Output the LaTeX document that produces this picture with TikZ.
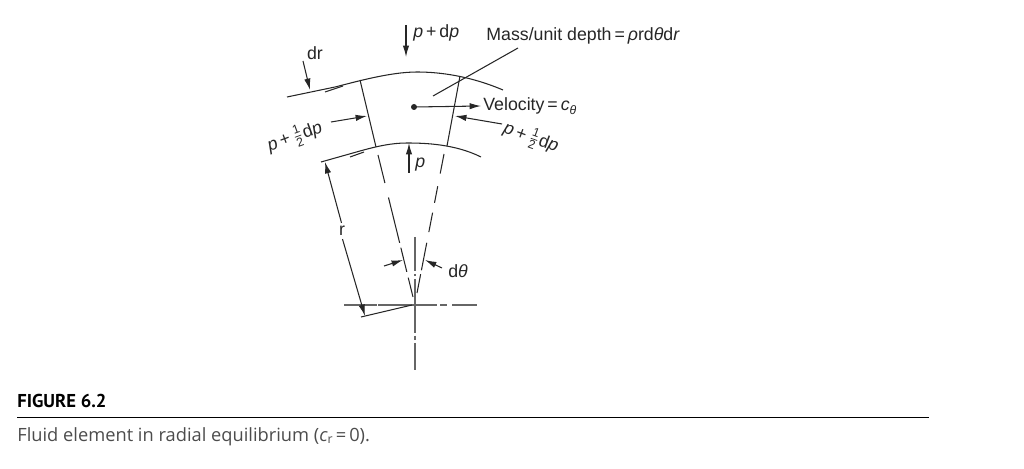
\documentclass[tikz,border=0pt]{standalone}
\usepackage{amsmath}
\usepackage{fontspec}
\setmainfont{Liberation Sans}
\newfontfamily\capfont{Open Sans}
\newfontfamily\headfont{PT Sans}
\usetikzlibrary{arrows.meta}
\newcommand{\halffrac}{$\frac{\text{\fontsize{7}{7}\selectfont 1}}{\text{\fontsize{7}{7}\selectfont 2}}$}
\tikzset{
    ink/.style={draw=black!85, line width=0.6pt},
    force/.style={ink, -{Latex[length=6.5pt,width=3.6pt]}},
    centreline/.style={draw=black!60, line width=0.6pt},
    label/.style={text=black!85, font=\fontsize{10.1}{12}\selectfont, inner sep=0pt},
}
\begin{document}
\begin{tikzpicture}[x=0.02cm, y=-0.02cm]
            \useasboundingbox (0,0) rectangle (1024,469);

            \coordinate (outerstart) at (287,97);
            \coordinate (outerleft)  at (360,80);
            \coordinate (outerright) at (460,76);
            \coordinate (outerend)   at (503,90);
            \coordinate (innerstart) at (321,162);
            \coordinate (innerleft)  at (376,147);
            \coordinate (innerright) at (447,146);
            \coordinate (innerend)   at (481,157);
            \coordinate (footleft)   at (361,317);

            % element
            \draw[ink] (outerstart) -- (335,87) .. controls (355,82) and (390,72) .. (417,72)
                .. controls (440,72) and (470,76) .. (outerend);
            \draw[ink] (innerstart) -- (360,151) .. controls (378,146) and (392,143) .. (407,143)
                .. controls (425,143) and (455,144) .. (innerend);
            \draw[ink] (outerleft) -- (innerleft);
            \draw[ink] (outerright) -- (innerright);

            % stubs along the arcs
            \coordinate (stubouterA) at (325,92);
            \coordinate (stubouterB) at (343,86);
            \coordinate (stubinnerA) at (350,157);
            \coordinate (stubinnerB) at (364,152);
            \draw[ink] (stubouterA) -- (stubouterB);
            \draw[ink] (stubinnerA) -- (stubinnerB);

            % radial dashes
            \coordinate (dashleftA)  at (378,155);
            \coordinate (dashleftB)  at (413,297);
            \coordinate (dashrightA) at (444,154);
            \coordinate (dashrightB) at (417,293);
            \draw[ink, dash pattern=on 16.4pt off 8.5pt on 26.6pt off 2.8pt on 14.2pt off 3.4pt on 11.3pt]
                (dashleftA) -- (dashleftB);
            \draw[ink, dash pattern=on 11.3pt off 7.4pt on 9.6pt off 5.7pt on 11.3pt off 6.2pt on 15.9pt off 2.3pt on 13.6pt]
                (dashrightA) -- (dashrightB);

            % centre lines
            \coordinate (horizA) at (344,305);
            \coordinate (horizB) at (477,305);
            \coordinate (vertA)  at (415,237);
            \coordinate (vertB)  at (415,370);
            \draw[centreline, dash pattern=on 18.7pt off 0.9pt on 33.5pt off 1.7pt on 4pt off 2.8pt on 14pt]
                (horizA) -- (horizB);
            \draw[centreline, dash pattern=on 19.3pt off 1.7pt on 1.2pt off 1.7pt on 30.6pt off 1.7pt on 2.3pt off 1.7pt on 15.3pt]
                (vertA) -- (vertB);

            % radius
            \coordinate (rtop) at (325,162);
            \coordinate (rend) at (365,316);
            \draw[ink] (footleft) -- (412,305);
            \node[label] (rlabel) at (342,231) {r};
            \draw[force] (rlabel.north) ++(-0.5,-3) -- (rtop);
            \draw[force] (rlabel.south) ++(0.5,3) -- (rend);

            % dr and pressures
            \coordinate (drA) at (303,61);
            \coordinate (drB) at (310,90);
            \draw[force] (drA) -- (drB);
            \node[label] (drlabel) at (315,53) {dr};

            \coordinate (ptopA) at (406,25);
            \coordinate (ptopB) at (406,57);
            \draw[force] (ptopA) -- (ptopB);
            \node[label, anchor=west] (ptoplabel) at (413,33) {\textit{p}\,+\,d\textit{p}};

            \coordinate (pleftA) at (331,122);
            \coordinate (pleftB) at (367,116);
            \draw[force] (pleftA) -- (pleftB);
            \node[label, rotate=20] (pleftlabel) at (295,137) {\textit{p}\,+\,\halffrac{}d\textit{p}};

            \coordinate (prightA) at (502,124);
            \coordinate (prightB) at (455,116);
            \draw[force] (prightA) -- (prightB);
            \node[label, rotate=-20] (prightlabel) at (531,138) {\textit{p}\,+\,\halffrac{}d\textit{p}};

            \coordinate (pbotA) at (409,173);
            \coordinate (pbotB) at (409,143);
            \draw[force] (pbotA) -- (pbotB);
            \node[label, anchor=west] (pbotlabel) at (415,165) {\textit{p}};

            % velocity
            \coordinate (dot) at (414,107);
            \coordinate (velB) at (481,106);
            \fill[black!85] (dot) circle (3);
            \draw[force] (dot) -- (velB);
            \node[label, anchor=west] (vellabel) at (483,106) {Velocity\,=\,\textit{c}\raisebox{-0.4ex}{\fontsize{7}{8}\selectfont\textit{θ}}};

            % mass
            \coordinate (massA) at (518,48);
            \coordinate (massB) at (433,96);
            \draw[ink] (massA) -- (massB);
            \node[label, anchor=west] (masslabel) at (486,36) {Mass/unit depth\,=\,\textit{ρ}rd\textit{θ}d\textit{r}};

            % dtheta
            \coordinate (dthA) at (384,266);
            \coordinate (dthB) at (403,260);
            \coordinate (dthC) at (442,268);
            \coordinate (dthD) at (425,260);
            \draw[force] (dthA) -- (dthB);
            \draw[force] (dthC) -- (dthD);
            \node[label, anchor=west] (dthlabel) at (448,271) {d\textit{θ}};

            % caption
            \node[anchor=base west, inner sep=0pt, text=black, font=\headfont\bfseries\fontsize{10.6}{12}\selectfont] (figlabel) at (17,407) {FIGURE 6.2};
            \coordinate (ruleA) at (17,417.5);
            \coordinate (ruleB) at (929,417.5);
            \draw[black, line width=0.8pt] (ruleA) -- (ruleB);
            \node[anchor=base west, inner sep=0pt, text=black!70, font=\capfont\fontsize{10.4}{12}\selectfont] (captext) at (17,441) {Fluid element in radial equilibrium (\textit{c}\raisebox{-0.3ex}{\fontsize{7}{8}\selectfont r}\,=\,0).};

        \end{tikzpicture}
\end{document}
